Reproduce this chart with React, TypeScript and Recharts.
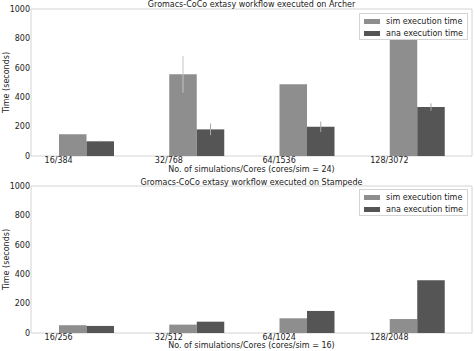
import React from 'react';
import { BarChart, Bar, XAxis, YAxis, ReferenceArea, ErrorBar } from 'recharts';

// Archer run
const archerCategories = ['16/384', '32/768', '64/1536', '128/3072'];
const archerSim = [148, 556, 488, 820];
const archerAna = [100, 181, 199, 333];
const archerSimErr = [0, 125, 0, 0];
const archerAnaErr = [5, 40, 35, 25];

// Stampede run
const stampedeCategories = ['16/256', '32/512', '64/1024', '128/2048'];
const stampedeSim = [53, 57, 100, 95];
const stampedeAna = [48, 77, 150, 358];

const yTicks = [0, 200, 400, 600, 800, 1000];

const SIM_COLOR = '#8e8e8e';
const ANA_COLOR = '#555555';
const FRAME_COLOR = '#d4d4d4';
const TEXT_COLOR = '#222222';
const FONT = '"DejaVu Sans", sans-serif';

const W = 474;
const BAR = 27.5;

const buildRows = (cats: string[], sim: number[], ana: number[], simErr?: number[], anaErr?: number[]) =>
  cats.map((c, i) => ({
    name: c,
    sim: sim[i],
    ana: ana[i],
    simErr: simErr ? simErr[i] : 0,
    anaErr: anaErr ? anaErr[i] : 0,
  }));

// tick labels sit at the left edge of each group (matplotlib align='edge' look)
const EdgeTick = ({ x, y, payload }: any) => (
  <text x={x - BAR} y={y + 7} textAnchor="middle" fontSize={8} fill={TEXT_COLOR} fontFamily={FONT}>
    {payload.value}
  </text>
);

const YLabel = ({ viewBox }: any) => {
  const cx = 6.5;
  const cy = viewBox.y + viewBox.height / 2;
  return (
    <text
      x={cx}
      y={cy}
      transform={`rotate(-90 ${cx} ${cy})`}
      textAnchor="middle"
      dominantBaseline="central"
      fontSize={8}
      fill={TEXT_COLOR}
      fontFamily={FONT}
    >
      Time (seconds)
    </text>
  );
};

const LegendBox = ({ top }: { top: number }) => (
  <div
    style={{
      position: 'absolute',
      left: 359,
      top,
      background: '#fff',
      border: `1px solid ${FRAME_COLOR}`,
      width: 107,
      height: 24,
      boxSizing: 'content-box',
      fontFamily: FONT,
      fontSize: 8,
      color: TEXT_COLOR,
      paddingTop: 1,
    }}
  >
    {[
      { label: 'sim execution time', color: SIM_COLOR },
      { label: 'ana execution time', color: ANA_COLOR },
    ].map((it) => (
      <div key={it.label} style={{ display: 'flex', alignItems: 'center', height: 12 }}>
        <span style={{ display: 'inline-block', width: 16, height: 5, background: it.color, marginLeft: 4, marginRight: 6 }} />
        <span>{it.label}</span>
      </div>
    ))}
  </div>
);

type PanelProps = {
  data: any[];
  title: string;
  xLabel: string;
  top: number;
  height: number;
  plotTop: number;
  axisHeight: number;
  legendTop: number;
  titleTop: number;
  errors?: boolean;
};

const Panel = ({ data, title, xLabel, top, height, plotTop, axisHeight, legendTop, titleTop, errors }: PanelProps) => (
  <div style={{ position: 'absolute', left: 0, top, width: W, height }}>
    <BarChart
      width={W}
      height={height}
      data={data}
      margin={{ top: plotTop, right: 2, left: 0, bottom: 0 }}
      barGap={0}
      barSize={BAR}
    >
      <XAxis
        dataKey="name"
        height={axisHeight}
        axisLine={false}
        tickLine={false}
        tickSize={0}
        tickMargin={0}
        tick={<EdgeTick />}
        interval={0}
        label={{ value: xLabel, position: 'insideBottom', offset: 3, fontSize: 8, fill: TEXT_COLOR, fontFamily: FONT }}
      />
      <YAxis
        width={31}
        domain={[0, 1000]}
        ticks={yTicks}
        axisLine={false}
        tickLine={false}
        tickSize={0}
        tickMargin={1}
        tick={{ fontSize: 8, fill: TEXT_COLOR, fontFamily: FONT }}
        label={<YLabel />}
      />
      <ReferenceArea y1={0} y2={1000} fill="none" stroke={FRAME_COLOR} strokeWidth={1} ifOverflow="visible" />
      <Bar dataKey="sim" name="sim execution time" fill={SIM_COLOR} isAnimationActive={false}>
        {errors && <ErrorBar dataKey="simErr" width={0} stroke="#c4c4c4" strokeWidth={1} />}
      </Bar>
      <Bar dataKey="ana" name="ana execution time" fill={ANA_COLOR} isAnimationActive={false}>
        {errors && <ErrorBar dataKey="anaErr" width={0} stroke="#a8a8a8" strokeWidth={1} />}
      </Bar>
    </BarChart>
    <LegendBox top={legendTop} />
    <div
      style={{
        position: 'absolute',
        left: 31,
        width: 441,
        top: titleTop,
        textAlign: 'center',
        fontFamily: FONT,
        fontSize: 8,
        lineHeight: '9px',
        color: TEXT_COLOR,
        pointerEvents: 'none',
      }}
    >
      {title}
    </div>
  </div>
);

export default function App() {
  const archer = buildRows(archerCategories, archerSim, archerAna, archerSimErr, archerAnaErr);
  const stampede = buildRows(stampedeCategories, stampedeSim, stampedeAna);
  return (
    <div style={{ position: 'absolute', left: 0, top: 0, width: W, height: 351, background: '#fff', overflow: 'hidden' }}>
      <Panel
        data={archer}
        title="Gromacs-CoCo extasy workflow executed on Archer"
        xLabel="No. of simulations/Cores (cores/sim = 24)"
        top={0}
        height={175}
        plotTop={9}
        axisHeight={19}
        legendTop={13}
        titleTop={0}
        errors
      />
      <Panel
        data={stampede}
        title="Gromacs-CoCo extasy workflow executed on Stampede"
        xLabel="No. of simulations/Cores (cores/sim = 16)"
        top={175}
        height={176}
        plotTop={11}
        axisHeight={18}
        legendTop={14}
        titleTop={3}
      />
    </div>
  );
}
